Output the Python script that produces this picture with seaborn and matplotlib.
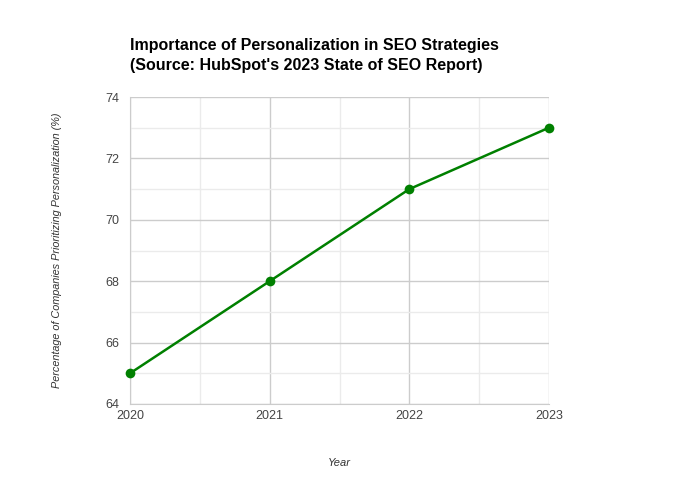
import matplotlib
matplotlib.use("Agg")
import matplotlib.pyplot as plt
from matplotlib.ticker import MultipleLocator
import seaborn as sns
import pandas as pd

years = [2020, 2021, 2022, 2023]
percentages = [65, 68, 71, 73]
title = "Importance of Personalization in SEO Strategies\n(Source: HubSpot's 2023 State of SEO Report)"
xlabel = "Year"
ylabel = "Percentage of Companies Prioritizing Personalization (%)"

sns.set_style("white")
plt.rcParams['font.family'] = ['Liberation Sans', 'DejaVu Sans']

df = pd.DataFrame({"Year": years, "Pct": percentages})

fig = plt.figure(figsize=(6.8, 5), dpi=100)
ax = fig.add_axes([130/680, 1-404/500, (549-130)/680, (404-97)/500])

sns.lineplot(data=df, x="Year", y="Pct", ax=ax, color="#008000", linewidth=1.8,
             marker="o", markersize=7, markeredgewidth=0, zorder=3, clip_on=False)

ax.set_xlim(2020, 2023)
ax.set_ylim(64, 74)
ax.xaxis.set_major_locator(MultipleLocator(1))
ax.xaxis.set_minor_locator(MultipleLocator(0.5))
ax.yaxis.set_major_locator(MultipleLocator(2))
ax.yaxis.set_minor_locator(MultipleLocator(1))
ax.xaxis.set_major_formatter(plt.FuncFormatter(lambda v, p: f"{int(round(v))}"))
ax.yaxis.set_major_formatter(plt.FuncFormatter(lambda v, p: f"{int(round(v))}"))

ax.grid(which="major", color="#cccccc", linewidth=1)
ax.grid(which="minor", color="#ebebeb", linewidth=1)
ax.set_axisbelow(True)
for s in ax.spines.values():
    s.set_visible(False)
ax.spines["left"].set_visible(True)
ax.spines["bottom"].set_visible(True)
ax.spines["left"].set_color("#cccccc")
ax.spines["bottom"].set_color("#cccccc")

ax.tick_params(which="both", length=0, labelsize=9, labelcolor="#444444")
ax.tick_params(axis="y", pad=8)
ax.tick_params(axis="x", pad=4)

ax.set_xlabel(xlabel, fontsize=8, fontstyle="italic", color="#333333", labelpad=26)
ax.set_ylabel(ylabel, fontsize=7.8, fontstyle="italic", color="#333333", labelpad=31)

fig.text(130/680, 1-38/500, title, fontsize=11.5, fontweight="bold", color="#000000",
         ha="left", va="top", linespacing=1.45)

fig.savefig("out.png", dpi=100)
